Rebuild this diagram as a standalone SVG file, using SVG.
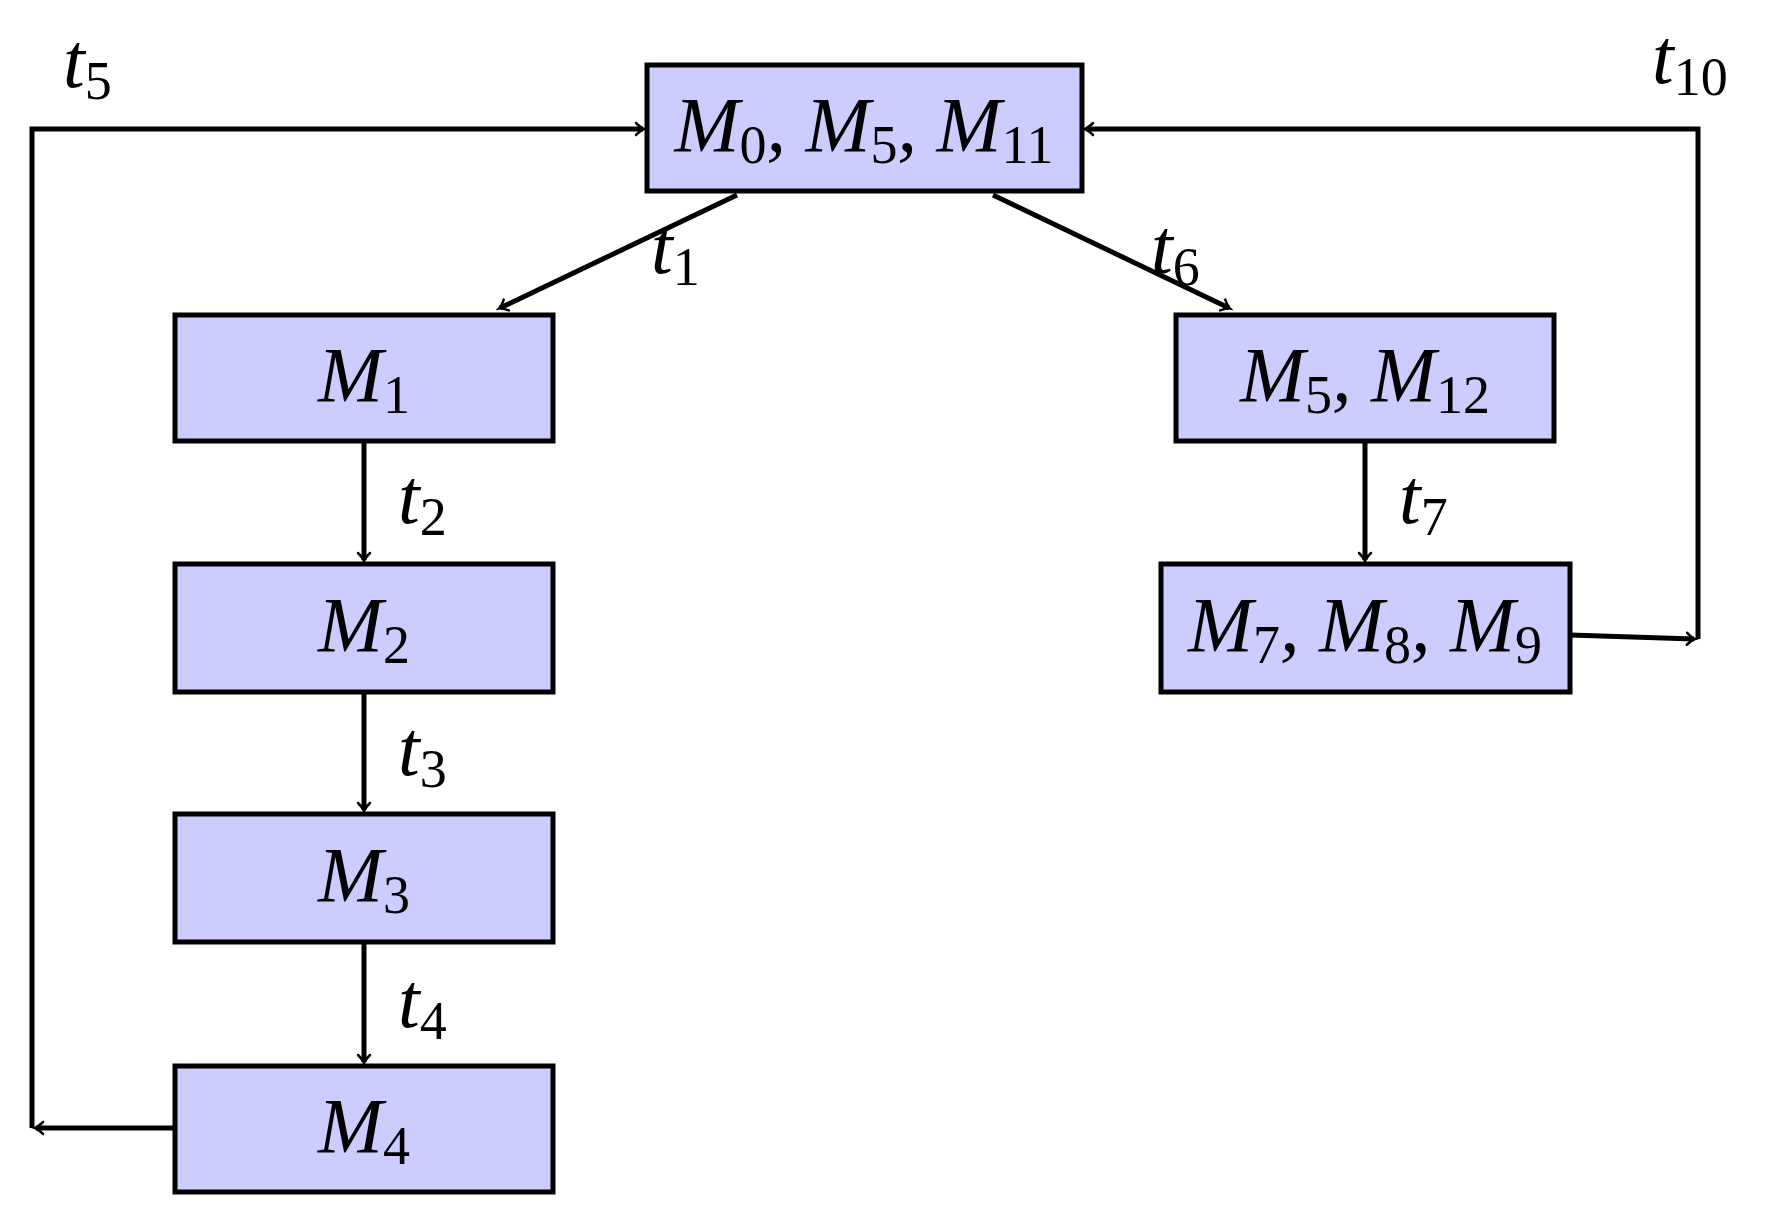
<svg xmlns="http://www.w3.org/2000/svg" width="1770" height="1220" viewBox="0 0 1770 1220">
<style>
.box{fill:#ccccff;stroke:#000;stroke-width:5}
.lbl{font-family:"Liberation Serif",serif;font-style:italic;font-size:78px;fill:#000}
.sub{font-style:normal;font-size:54px}
.edge{fill:none;stroke:#000;stroke-width:5;marker-end:url(#ah)}
.line{fill:none;stroke:#000;stroke-width:5}
</style>
<defs>
<marker id="ah" viewBox="-12 -10 14 20" markerWidth="7" markerHeight="10" refX="0" refY="0" orient="auto" markerUnits="userSpaceOnUse" overflow="visible">
<path d="M-14,-12 Q-4,-2 2,0 Q-4,2 -14,12" fill="none" stroke="#000" stroke-width="5" stroke-linecap="round"/>
</marker>
</defs>
<rect width="1770" height="1220" fill="#fff"/>
<g id="connectors">
<path class="edge" d="M737,195 L500,308"/>
<path class="edge" d="M993,195 L1229,308"/>
<path class="edge" d="M364,441 L364,560"/>
<path class="edge" d="M364,692 L364,810"/>
<path class="edge" d="M364,942 L364,1062"/>
<path class="edge" d="M1365,441 L1365,560"/>
<path class="edge" d="M175,1128 L36,1128"/>
<path class="edge" d="M32,1128 L32,129 L643,129"/>
<path class="edge" d="M1570,635 L1694,639"/>
<path class="edge" d="M1698,639 L1698,129 L1086,129"/>
</g>
<g id="labels" class="lbl">
<text x="651" y="273">t<tspan class="sub" dy="12">1</tspan></text>
<text x="398" y="523">t<tspan class="sub" dy="12">2</tspan></text>
<text x="398" y="775">t<tspan class="sub" dy="12">3</tspan></text>
<text x="398" y="1027">t<tspan class="sub" dy="12">4</tspan></text>
<text x="63" y="87">t<tspan class="sub" dy="12">5</tspan></text>
<text x="1151" y="273">t<tspan class="sub" dy="12">6</tspan></text>
<text x="1399" y="523">t<tspan class="sub" dy="12">7</tspan></text>
<text x="1652" y="83">t<tspan class="sub" dy="12">10</tspan></text>
</g>
<g id="n0"><rect class="box" x="647" y="65" width="435" height="126"/>
<text class="lbl" x="864" y="151" text-anchor="middle">M<tspan class="sub" dy="12">0</tspan><tspan dy="-12">, M</tspan><tspan class="sub" dy="12">5</tspan><tspan dy="-12">, M</tspan><tspan class="sub" dy="12">11</tspan></text></g>
<g id="n1"><rect class="box" x="175" y="315" width="378" height="126"/>
<text class="lbl" x="364" y="401" text-anchor="middle">M<tspan class="sub" dy="12">1</tspan></text></g>
<g id="n2"><rect class="box" x="175" y="564" width="378" height="128"/>
<text class="lbl" x="364" y="651" text-anchor="middle">M<tspan class="sub" dy="12">2</tspan></text></g>
<g id="n3"><rect class="box" x="175" y="814" width="378" height="128"/>
<text class="lbl" x="364" y="901" text-anchor="middle">M<tspan class="sub" dy="12">3</tspan></text></g>
<g id="n4"><rect class="box" x="175" y="1066" width="378" height="126"/>
<text class="lbl" x="364" y="1152" text-anchor="middle">M<tspan class="sub" dy="12">4</tspan></text></g>
<g id="n5"><rect class="box" x="1176" y="315" width="378" height="126"/>
<text class="lbl" x="1365" y="401" text-anchor="middle">M<tspan class="sub" dy="12">5</tspan><tspan dy="-12">, M</tspan><tspan class="sub" dy="12">12</tspan></text></g>
<g id="n6"><rect class="box" x="1161" y="564" width="409" height="128"/>
<text class="lbl" x="1365" y="651" text-anchor="middle">M<tspan class="sub" dy="12">7</tspan><tspan dy="-12">, M</tspan><tspan class="sub" dy="12">8</tspan><tspan dy="-12">, M</tspan><tspan class="sub" dy="12">9</tspan></text></g>
</svg>
